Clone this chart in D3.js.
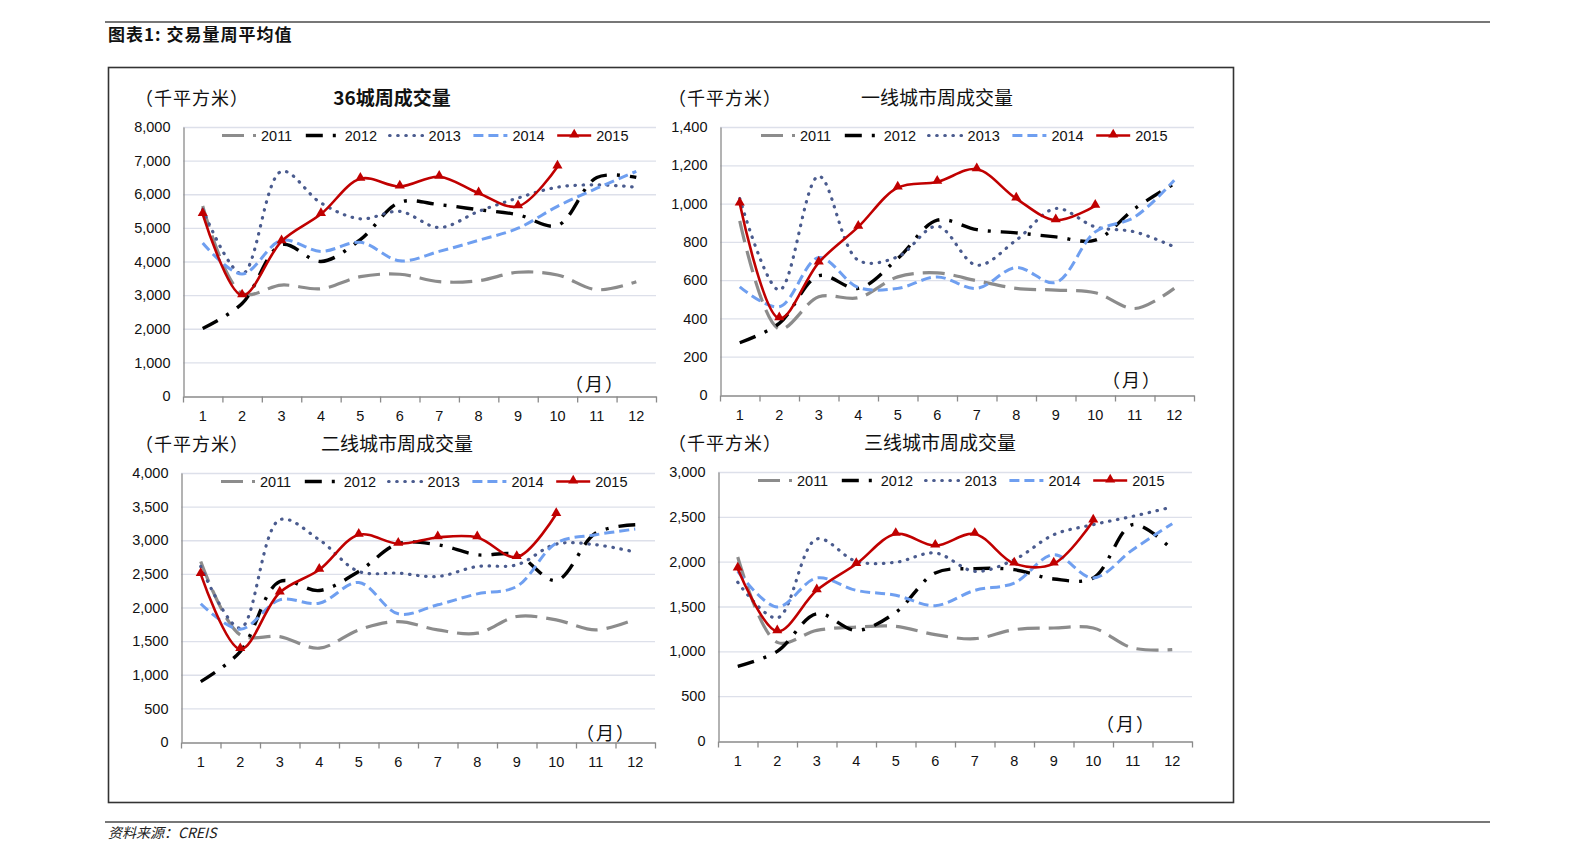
<!DOCTYPE html>
<html>
<head>
<meta charset="utf-8">
<script src="https://cdn.jsdelivr.net/npm/d3@7"></script>
<style>
  body { margin: 0; background: #fff; }
  svg text { font-family: "Liberation Sans", Arial, "Noto Sans CJK SC", sans-serif; }
  .cjk { font-family: "Noto Sans CJK SC", "Liberation Sans", sans-serif; }
</style>
</head>
<body>
<svg id="chart" width="1584" height="862"></svg>
<script>
// months on the x axis and the five years shown
const months = ["1", "2", "3", "4", "5", "6", "7", "8", "9", "10", "11", "12"];
const years = ["2011", "2012", "2013", "2014", "2015"];

// 36城周成交量 (千平方米)
const c36_2011 = [5650, 3050, 3300, 3190, 3550, 3620, 3400, 3430, 3680, 3600, 3160, 3400];
const c36_2012 = [2010, 2750, 4500, 4000, 4650, 5760, 5690, 5540, 5390, 5070, 6500, 6500];
const c36_2013 = [5550, 3630, 6680, 5740, 5270, 5490, 5010, 5490, 5890, 6210, 6280, 6210];
const c36_2014 = [4550, 3630, 4630, 4300, 4570, 4020, 4300, 4630, 4990, 5640, 6180, 6680];
const c36_2015 = [5410, 2990, 4600, 5410, 6460, 6230, 6520, 6030, 5640, 6820];

// 一线城市周成交量
const t1_2011 = [910, 345, 513, 508, 617, 638, 597, 557, 548, 534, 452, 557];
const t1_2012 = [273, 374, 623, 557, 713, 913, 864, 847, 826, 809, 974, 1104];
const t1_2013 = [1026, 548, 1143, 704, 722, 882, 678, 809, 974, 878, 852, 774];
const t1_2014 = [565, 461, 718, 562, 557, 617, 557, 666, 588, 852, 930, 1122];
const t1_2015 = [1000, 400, 692, 878, 1083, 1113, 1179, 1026, 913, 988];

// 二线城市周成交量
const t2_2011 = [2685, 1593, 1568, 1395, 1667, 1791, 1667, 1618, 1866, 1816, 1667, 1826];
const t2_2012 = [898, 1345, 2387, 2253, 2536, 2948, 2933, 2784, 2784, 2402, 3107, 3231];
const t2_2013 = [2610, 1692, 3305, 3007, 2536, 2511, 2461, 2610, 2635, 2943, 2933, 2824];
const t2_2014 = [2055, 1677, 2114, 2064, 2372, 1906, 2040, 2203, 2313, 2958, 3082, 3166];
const t2_2015 = [2496, 1380, 2223, 2561, 3082, 2948, 3042, 3042, 2749, 3390];

// 三线城市周成交量
const t3_2011 = [2052, 1100, 1234, 1271, 1279, 1186, 1141, 1242, 1260, 1260, 1037, 1019];
const t3_2012 = [833, 1000, 1420, 1234, 1435, 1874, 1922, 1911, 1807, 1818, 2413, 2134];
const t3_2013 = [1770, 1372, 2253, 2004, 1993, 2097, 1892, 2022, 2301, 2413, 2506, 2610];
const t3_2014 = [1892, 1494, 1818, 1680, 1625, 1509, 1680, 1762, 2078, 1818, 2134, 2424];
const t3_2015 = [1922, 1223, 1680, 1974, 2309, 2178, 2309, 1978, 1978, 2457];

// line styles per year
let styles = {
    "2011": { color: "#8c8c8c", width: 3.2, dash: "22,9", cap: "butt" },
    "2012": { color: "#000000", width: 3.4, dash: "17,10,3,10", cap: "butt" },
    "2013": { color: "#4a5b8e", width: 3.2, dash: "0.5,7.6", cap: "round" },
    "2014": { color: "#6f9ff0", width: 3, dash: "10,5", cap: "butt" },
    "2015": { color: "#c00000", width: 2.6, dash: null, cap: "butt" }
};

let panels = [
    { title: "36城周成交量", bold: true, left: 183, right: 656, top: 127, bottom: 396, max: 8000, step: 1000,
      series: [c36_2011, c36_2012, c36_2013, c36_2014, c36_2015],
      unitX: 135, titleX: 392, monthX: 595, monthY: 383, legendX: 222 },
    { title: "一线城市周成交量", bold: false, left: 720, right: 1194, top: 127, bottom: 395, max: 1400, step: 200,
      series: [t1_2011, t1_2012, t1_2013, t1_2014, t1_2015],
      unitX: 668, titleX: 937, monthX: 1132, monthY: 379, legendX: 761 },
    { title: "二线城市周成交量", bold: false, left: 181, right: 655, top: 473, bottom: 742, max: 4000, step: 500,
      series: [t2_2011, t2_2012, t2_2013, t2_2014, t2_2015],
      unitX: 135, titleX: 397, monthX: 606, monthY: 732, legendX: 221 },
    { title: "三线城市周成交量", bold: false, left: 718, right: 1192, top: 472, bottom: 741, max: 3000, step: 500,
      series: [t3_2011, t3_2012, t3_2013, t3_2014, t3_2015],
      unitX: 668, titleX: 940, monthX: 1126, monthY: 723, legendX: 758 }
];

let svg = d3.select("#chart");

// page frame: rules, header, outer box, source
svg.append("line").attr("x1", 105).attr("x2", 1490).attr("y1", 22).attr("y2", 22)
    .attr("stroke", "#777").attr("stroke-width", 2);
svg.append("text").attr("class", "cjk").attr("x", 108).attr("y", 41)
    .attr("font-size", 17).attr("font-weight", "bold").attr("fill", "#111")
    .attr("letter-spacing", 1)
    .text("图表1: 交易量周平均值");
svg.append("rect").attr("x", 108.5).attr("y", 67.5).attr("width", 1125).attr("height", 735)
    .attr("fill", "none").attr("stroke", "#333").attr("stroke-width", 1.6);
svg.append("line").attr("x1", 105).attr("x2", 1490).attr("y1", 822).attr("y2", 822)
    .attr("stroke", "#777").attr("stroke-width", 2);
svg.append("text").attr("class", "cjk").attr("x", 108).attr("y", 838)
    .attr("font-size", 14).attr("font-style", "italic").attr("fill", "#222")
    .text("资料来源：CREIS");

let triangle = d3.symbol().type(d3.symbolTriangle).size(44);

function drawPanel(p) {
    let g = svg.append("g");
    let x = d3.scaleBand().domain(months).range([p.left, p.right]);
    let y = d3.scaleLinear().domain([0, p.max]).range([p.bottom, p.top]);
    let ticks = d3.range(0, p.max + 1, p.step);

    // gridlines
    g.append("g").selectAll("line").data(ticks.slice(1)).enter().append("line")
        .attr("x1", p.left).attr("x2", p.right)
        .attr("y1", function(d) { return y(d) + 0.5; })
        .attr("y2", function(d) { return y(d) + 0.5; })
        .attr("stroke", "#dde0ea").attr("stroke-width", 1.3);

    // y axis
    let yAxis = g.append("g").attr("transform", "translate(" + (p.left + 0.5) + ",0)")
        .call(d3.axisLeft(y).tickValues(ticks).tickSize(0).tickPadding(13).tickFormat(d3.format(",")));
    yAxis.select(".domain").attr("stroke", "#8a8a8a").attr("stroke-width", 1.3);
    yAxis.selectAll("text").attr("font-size", 14.5).attr("fill", "#111")
        .attr("font-family", "Liberation Sans, Arial, sans-serif");

    // x axis, ticks between months
    let xAxis = g.append("g").attr("transform", "translate(0," + (p.bottom + 0.5) + ")")
        .call(d3.axisBottom(x).tickSize(0).tickPadding(14));
    xAxis.select(".domain").attr("stroke", "#8a8a8a").attr("stroke-width", 1.3);
    xAxis.selectAll("text").attr("font-size", 14.5).attr("fill", "#111")
        .attr("font-family", "Liberation Sans, Arial, sans-serif");
    xAxis.selectAll(".sep").data(d3.range(13)).enter().append("line").attr("class", "sep")
        .attr("x1", function(i) { return p.left + i * x.step() + 0.5; })
        .attr("x2", function(i) { return p.left + i * x.step() + 0.5; })
        .attr("y1", 0).attr("y2", 6)
        .attr("stroke", "#8a8a8a").attr("stroke-width", 1.3);

    // unit, title and month label
    g.append("text").attr("class", "cjk").attr("x", p.unitX).attr("y", p.top - 30)
        .attr("dominant-baseline", "central").attr("font-size", 18).attr("fill", "#111")
        .attr("letter-spacing", 1)
        .text("（千平方米）");
    g.append("text").attr("class", "cjk").attr("x", p.titleX).attr("y", p.top - 31)
        .attr("text-anchor", "middle").attr("dominant-baseline", "central")
        .attr("font-size", 19).attr("font-weight", p.bold ? "bold" : "normal").attr("fill", "#111")
        .text(p.title);
    g.append("text").attr("class", "cjk").attr("x", p.monthX).attr("y", p.monthY)
        .attr("text-anchor", "middle").attr("dominant-baseline", "central")
        .attr("font-size", 18).attr("fill", "#111").attr("letter-spacing", 2)
        .text("（月）");

    let line = d3.line()
        .x(function(d, i) { return x(months[i]) + x.bandwidth() / 2; })
        .y(function(d) { return y(d); })
        .curve(d3.curveCatmullRom.alpha(0.5));

    // series lines
    years.forEach(function(yr, k) {
        let s = styles[yr];
        g.append("path").datum(p.series[k])
            .attr("d", line)
            .attr("fill", "none")
            .attr("stroke", s.color)
            .attr("stroke-width", s.width)
            .attr("stroke-dasharray", s.dash)
            .attr("stroke-linecap", s.cap);
    });

    // 2015 markers
    g.append("g").selectAll("path").data(p.series[4]).enter().append("path")
        .attr("d", triangle)
        .attr("transform", function(d, i) {
            return "translate(" + (x(months[i]) + x.bandwidth() / 2) + "," + (y(d) - 1) + ")";
        })
        .attr("fill", styles["2015"].color);

    // legend
    let ly = p.top + 8.5;
    years.forEach(function(yr, k) {
        let s = styles[yr];
        let lx = p.legendX + k * 83.8;
        g.append("line").attr("x1", lx).attr("x2", lx + 34).attr("y1", ly).attr("y2", ly)
            .attr("stroke", s.color).attr("stroke-width", s.width)
            .attr("stroke-dasharray", s.dash).attr("stroke-linecap", s.cap);
        if (yr == "2015") {
            g.append("path").attr("d", triangle)
                .attr("transform", "translate(" + (lx + 17) + "," + (ly - 1) + ")")
                .attr("fill", s.color);
        }
        g.append("text").attr("x", lx + 39).attr("y", ly)
            .attr("dominant-baseline", "central").attr("font-size", 14.5).attr("fill", "#111")
            .text(yr);
    });
}

panels.forEach(drawPanel);
</script>
</body>
</html>
